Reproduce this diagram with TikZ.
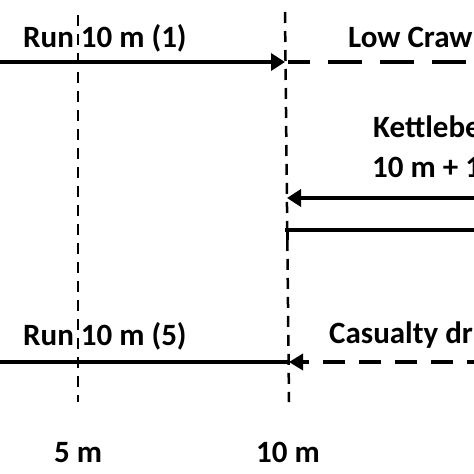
\documentclass[tikz,border=0pt]{standalone}
\usepackage{fontspec}
\setmainfont{Carlito}
\usetikzlibrary{arrows.meta}
\tikzset{
  lbl/.style={anchor=base west, inner sep=0pt, font=\fontsize{31}{36}\selectfont\bfseries},
  mlbl/.style={anchor=base, inner sep=0pt, font=\fontsize{31}{36}\selectfont\bfseries},
  guide/.style={line width=2.5pt, dash pattern=on 11pt off 8pt},
  track/.style={line width=4pt},
  dtrack/.style={line width=4pt, dash pattern=on 34pt off 18pt},
  rtip/.style={-{Triangle[length=14pt,width=17pt]}},
}
\begin{document}
\begin{tikzpicture}[x=1pt,y=-1pt]
\useasboundingbox (0,0) rectangle (474,474);
\clip (0,0) rectangle (474,474);
% coordinates
\coordinate (v5t) at (78,15);
\coordinate (v5b) at (78,402);
\coordinate (v10t) at (285,12);
\coordinate (v10b) at (289,402);
\coordinate (a1s) at (0,62);
\coordinate (a1e) at (285,62);
\coordinate (d1s) at (288,62);
\coordinate (d1e) at (480,62);
\coordinate (k1s) at (480,198);
\coordinate (k1e) at (287,198);
\coordinate (k2s) at (480,230);
\coordinate (k2c) at (287,230);
\coordinate (k2e) at (287,240);
\coordinate (r5s) at (0,362);
\coordinate (r5e) at (290,362);
\coordinate (c5s) at (480,362);
\coordinate (c5e) at (289,362);
% guides
\draw[guide] (v5t) -- (v5b);
\draw[guide] (v10t) -- (v10b);
% tracks
\draw[track, rtip] (a1s) -- (a1e);
\draw[dtrack, dash phase=12pt] (d1s) -- (d1e);
\draw[track, rtip] (k1s) -- (k1e);
\draw[track, line cap=rect] (k2s) -- (k2c);
\draw[line width=3pt] (k2c) -- (k2e);
\draw[track] (r5s) -- (r5e);
\draw[line width=4pt, dash pattern=on 22pt off 14pt, dash phase=9pt] (c5s) -- ([xshift=14pt]c5e);
\draw[line width=4pt, -{Triangle[length=14pt,width=16pt]}] ([xshift=15pt]c5e) -- (c5e);
% labels
\node[lbl] (t1) at (23,47) {Run 10 m (1)};
\node[lbl] (t2) at (348,47) {Low Craw};
\node[lbl] (t3) at (373,137) {Kettlebe};
\node[lbl] (t4) at (372,177) {10 m + 1};
\node[lbl] (t5) at (23,345) {Run 10 m (5)};
\node[lbl] (t6) at (329,343) {Casualty dr};
\node[mlbl] (m5) at (78,462) {5 m};
\node[mlbl] (m10) at (288,462) {10 m};
\end{tikzpicture}
\end{document}
